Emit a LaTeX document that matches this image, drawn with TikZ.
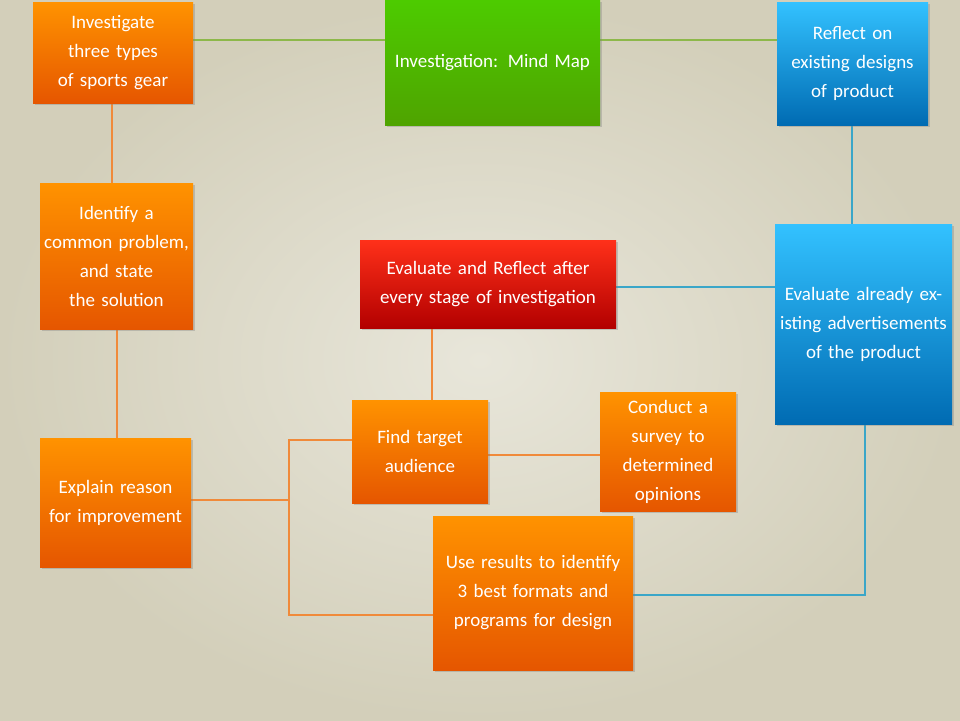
\documentclass[tikz,border=0pt]{standalone}
\usepackage{fontspec}
\setmainfont{Carlito}
\usetikzlibrary{shadows}
\definecolor{bgc}{HTML}{D3CFBA}
\definecolor{bgl}{HTML}{E8E6DA}
\definecolor{oline}{HTML}{F08A3A}
\definecolor{gline}{HTML}{8DB84A}
\definecolor{bline}{HTML}{3AA6C8}
\tikzset{
 bx/.style={draw=none,text=white,align=center,inner sep=2pt,
   font=\fontsize{19}{29}\selectfont,drop shadow={shadow xshift=2pt,shadow yshift=-2pt,opacity=0.35}},
 ob/.style={bx,top color=orange!85!yellow,bottom color=orange!75!red!90!black},
 gb/.style={bx,top color=green!55!olive!90!yellow,bottom color=green!35!olive!95!black},
 bb/.style={bx,top color=cyan!70!blue!80!white,bottom color=cyan!60!blue!70!black},
 rb/.style={bx,top color=red!80!orange!90!white,bottom color=red!70!black},
 oc/.style={oline,line width=2.5pt},
 gc/.style={gline,line width=2.5pt},
 bc/.style={bline,line width=2.5pt}
}
\begin{document}
\begin{tikzpicture}[x=1pt,y=-1pt]
\useasboundingbox (0,0) rectangle (960,720);
\shade[inner color=bgl,outer color=bgc] (0,0) rectangle (960,720);
\def\bxat#1#2#3#4#5#6#7{\node[#2,minimum width=#5-#3,minimum height=#6-#4,text width=#5-#3-8] (#1) at ({(#3+#5)/2},{(#4+#6)/2}) {#7};}
% connectors first
\coordinate (gA) at (193,40); \coordinate (gB1) at (385,40);
\coordinate (gB2) at (600,40); \coordinate (gC) at (777,40);
\draw[gc] (gA)--(gB1); \draw[gc] (gB2)--(gC);
\coordinate (c1) at (852,125); \coordinate (c2) at (852,224);
\draw[bc] (c1)--(c2);
\coordinate (f1) at (775,287); \coordinate (e1) at (616,287);
\draw[bc] (f1)--(e1);
\coordinate (a1) at (112,103); \coordinate (d1) at (112,183);
\draw[oc] (a1)--(d1);
\coordinate (d2) at (117,329); \coordinate (g1) at (117,438);
\draw[oc] (d2)--(g1);
\coordinate (e2) at (432,328); \coordinate (h1) at (432,400);
\draw[oc] (e2)--(h1);
\coordinate (h2) at (488,455); \coordinate (i1) at (600,455);
\draw[oc] (h2)--(i1);
\coordinate (g2) at (191,500); \coordinate (k1) at (289,500);
\coordinate (k2) at (289,440); \coordinate (k3) at (289,615);
\coordinate (hL) at (352,440); \coordinate (jL) at (433,615);
\draw[oc] (g2)--(k1); \draw[oc] (hL)--(k2)--(k3)--(jL);
\coordinate (f2) at (865,424); \coordinate (f3) at (865,595); \coordinate (jR) at (633,595);
\draw[bc] (f2)--(f3)--(jR);
% boxes
\bxat{A}{ob}{33}{2}{193}{103}{Investigate three types of sports gear}
\bxat{B}{gb}{385}{0}{600}{125}{Investigation: Mind Map\\[20pt]}
\bxat{C}{bb}{777}{2}{928}{125}{Reflect on existing designs of product}
\bxat{D}{ob}{40}{183}{193}{329}{Identify a common problem, and state the solution}
\bxat{E}{rb}{360}{240}{616}{328}{Evaluate and Reflect after every stage of investigation}
\bxat{F}{bb}{775}{224}{952}{424}{Evaluate already existing advertisements of the product}
\bxat{G}{ob}{40}{438}{191}{567}{Explain reason for improvement}
\bxat{H}{ob}{352}{400}{488}{503}{Find target audience}
\bxat{I}{ob}{600}{392}{736}{511}{Conduct a survey to determined opinions}
\bxat{J}{ob}{433}{516}{633}{670}{Use results to identify 3 best formats and programs for design}
\end{tikzpicture}
\end{document}
